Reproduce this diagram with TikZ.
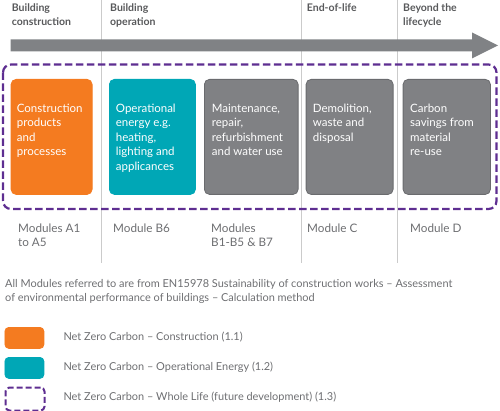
\documentclass[tikz,border=0pt]{standalone}
\usepackage{fontspec}
\setmainfont{Lato}
\definecolor{orng}{HTML}{F47B20}
\definecolor{tealb}{HTML}{00A7B6}
\definecolor{boxgray}{HTML}{808184}
\definecolor{boxedge}{HTML}{6A6B6E}
\definecolor{arrgray}{HTML}{808285}
\definecolor{purp}{HTML}{5E2E91}
\definecolor{txtgray}{HTML}{6D6E71}
\definecolor{hdgray}{HTML}{58595B}
\definecolor{sepgray}{HTML}{CBCBCB}
\newcommand\mlines[1]{\begin{tabular}[t]{@{}l@{}}#1\end{tabular}}
\tikzset{
  phase/.style={anchor=base west, inner sep=0pt, text=hdgray, font=\fontsize{10.5}{14.5}\selectfont\bfseries},
  boxtext/.style={anchor=base west, inner sep=0pt, text=white, font=\fontsize{11.5}{14.5}\selectfont},
  modtext/.style={anchor=base west, inner sep=0pt, text=txtgray, font=\fontsize{11.7}{13.5}\selectfont},
  note/.style={anchor=base west, inner sep=0pt, text=txtgray, font=\fontsize{10.95}{13.5}\selectfont},
  sepline/.style={draw=sepgray, line width=0.9pt},
  stagebox/.style={anchor=north west, rounded corners=5pt, inner sep=0pt, line width=0.8pt},
  obox/.style={stagebox, fill=orng, draw=orng},
  tbox/.style={stagebox, fill=tealb, draw=tealb},
  gbox/.style={stagebox, fill=boxgray, draw=boxedge},
  wholelife/.style={draw=purp, line width=2.2pt, dash pattern=on 7.5pt off 3.5pt},
}
\begin{document}
\begin{tikzpicture}[x=1pt,y=-1pt]
\useasboundingbox (0,0) rectangle (500,411);
% separators
\draw[sepline] (101.5,0) -- (101.5,263);
\draw[sepline] (301.7,0) -- (301.7,263);
\draw[sepline] (397,0) -- (397,263);
% phase headers
\node[phase] (h1) at (11.7,11.5) {\mlines{Building\\construction}};
\node[phase] (h2) at (110,11.5) {\mlines{Building\\operation}};
\node[phase] (h3) at (306.7,11.5) {End-of-life};
\node[phase] (h4) at (403,11.5) {\mlines{Beyond the\\lifecycle}};
% timeline arrow
\fill[arrgray] (10.5,39.5) -- (472,39.5) -- (472,32.5) -- (498,45.5) -- (472,58.5) -- (472,51.5) -- (10.5,51.5) -- cycle;
% whole life dashed frame
\draw[wholelife, rounded corners=8pt] (3,64.5) rectangle (496.5,209);
% stage boxes
\node[obox, minimum width=81pt, minimum height=115pt] (b1) at (10.7,79) {};
\node[tbox, minimum width=86pt, minimum height=115pt] (b2) at (109,79) {};
\node[gbox, minimum width=93.7pt, minimum height=115pt] (b3) at (204,79) {};
\node[gbox, minimum width=87pt, minimum height=115pt] (b4) at (305.7,79) {};
\node[gbox, minimum width=87.3pt, minimum height=115pt] (b5) at (402.7,79) {};
\node[boxtext] (t1) at (16.7,112.5) {\mlines{Construction\\products\\and\\processes}};
\node[boxtext] (t2) at (115.7,112.5) {\mlines{Operational\\energy e.g.\\heating,\\lighting and\\applicances}};
\node[boxtext] (t3) at (211.7,112.5) {\mlines{Maintenance,\\repair,\\refurbishment\\and water use}};
\node[boxtext] (t4) at (312.7,112.5) {\mlines{Demolition,\\waste and\\disposal}};
\node[boxtext] (t5) at (410,112.5) {\mlines{Carbon\\savings from\\material\\re-use}};
% module labels
\node[modtext] (m1) at (18,233) {\mlines{Modules A1\\to A5}};
\node[modtext] (m2) at (113,233) {Module B6};
\node[modtext] (m3) at (211,233) {\mlines{Modules\\B1-B5 \& B7}};
\node[modtext] (m4) at (307,233) {Module C};
\node[modtext] (m5) at (410,233) {Module D};
% footnote
\node[note] (fn) at (5,287.5) {\mlines{All Modules referred to are from EN15978 Sustainability of construction works – Assessment\\of environmental performance of buildings – Calculation method}};
% legend
\node[obox, rounded corners=4pt, minimum width=39pt, minimum height=21pt] (k1) at (4.5,327) {};
\node[tbox, rounded corners=4pt, minimum width=39pt, minimum height=21pt] (k2) at (4.5,357) {};
\node[anchor=north west, inner sep=0pt, wholelife, line width=2pt, dash pattern=on 6pt off 3pt, rounded corners=4pt, minimum width=39pt, minimum height=23pt] (k3) at (4.5,386.5) {};
\node[note] (l1) at (63.3,340.5) {Net Zero Carbon – Construction (1.1)};
\node[note] (l2) at (63.3,370.7) {Net Zero Carbon – Operational Energy (1.2)};
\node[note] (l3) at (63.3,400.5) {Net Zero Carbon – Whole Life (future development) (1.3)};
\end{tikzpicture}
\end{document}
